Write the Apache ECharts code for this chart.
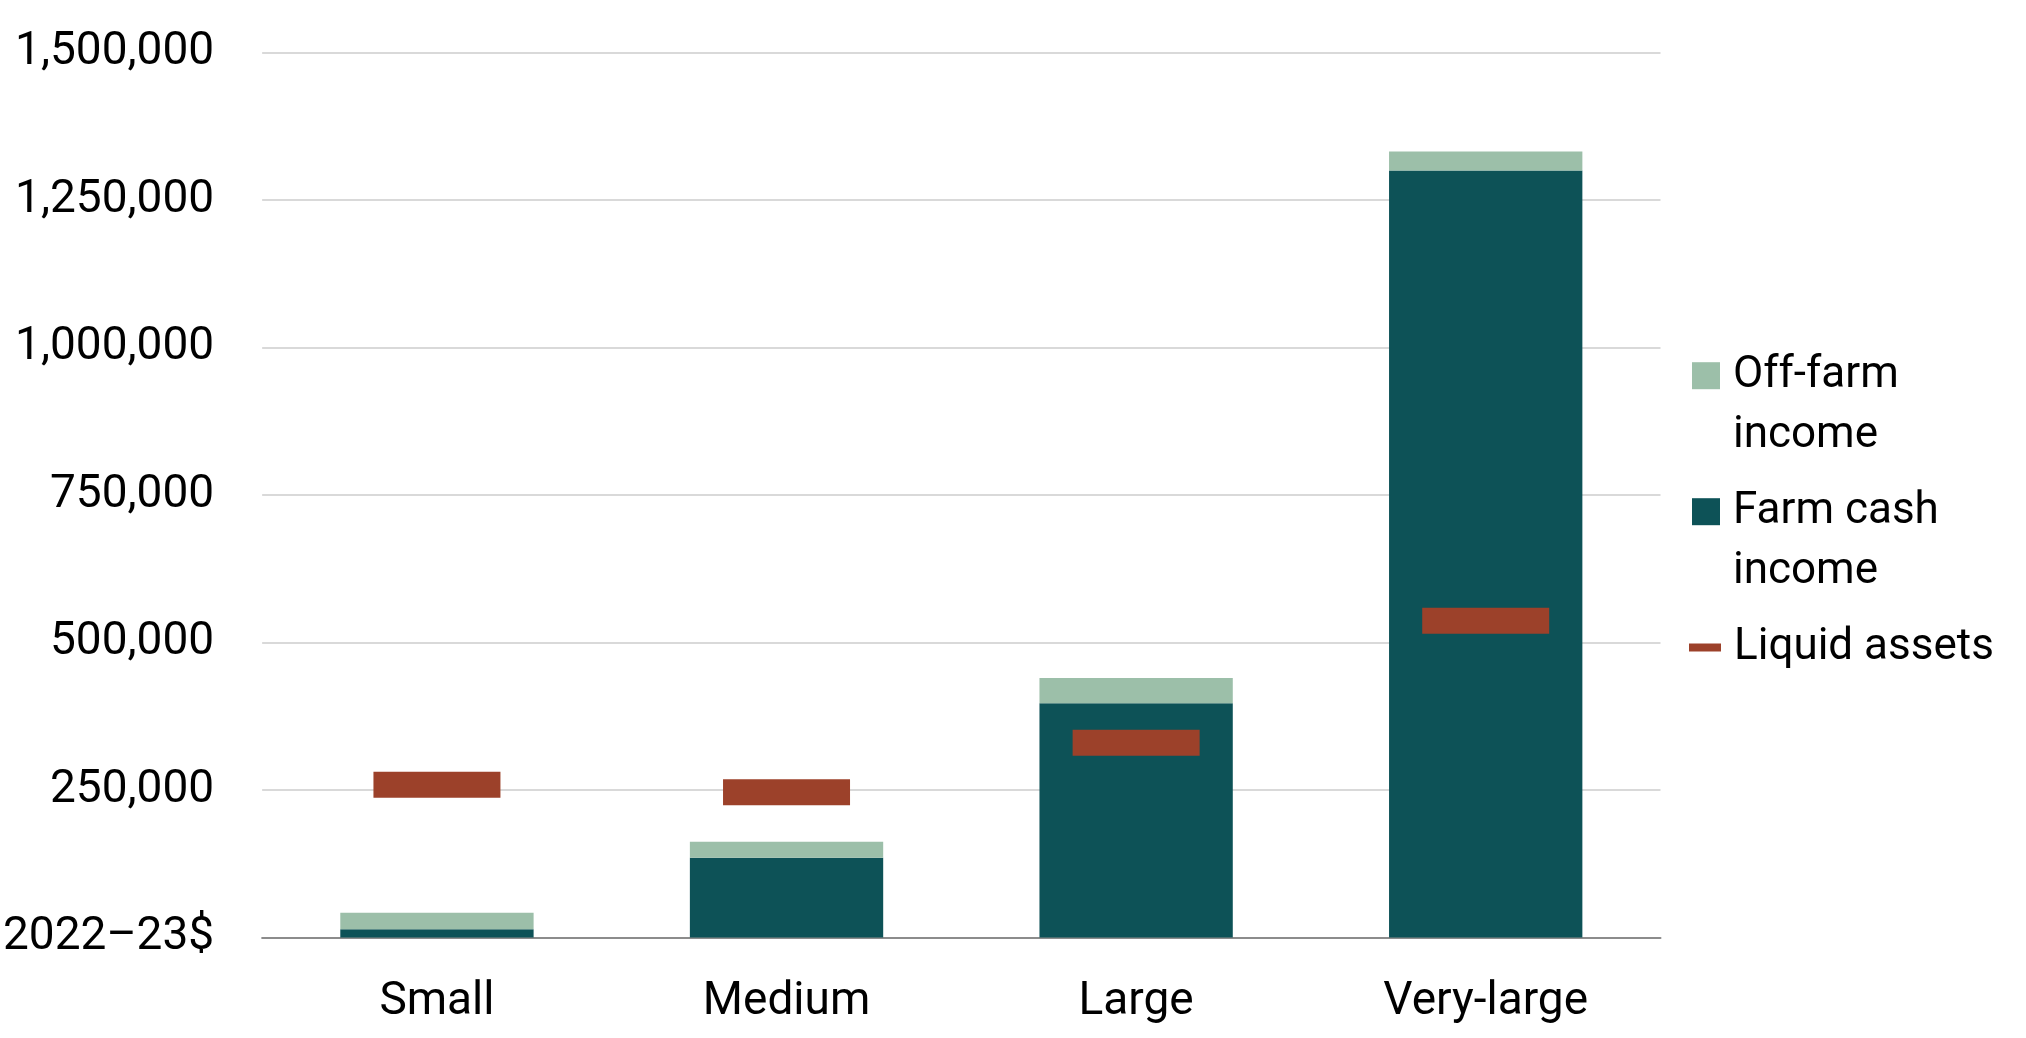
<!DOCTYPE html>
<html>
<head>
<meta charset="utf-8">
<script src="https://cdn.jsdelivr.net/npm/echarts@6/dist/echarts.min.js"></script>
<style>
html,body{margin:0;padding:0;background:#fff;}
#chart{width:2026px;height:1038px;}
</style>
</head>
<body>
<div id="chart"></div>
<script>
const categories = ['Small', 'Medium', 'Large', 'Very-large'];
const farmCashIncome = [14000, 135000, 397000, 1300000];
const offFarmIncome = [28000, 27500, 43000, 32000];
const liquidAssets = [259000, 246000, 330000, 537000];
const yTicks = [0, 250000, 500000, 750000, 1000000, 1250000, 1500000];
const zeroLabel = '2022–23$';

const FONT = 'Roboto';
const chart = echarts.init(document.getElementById('chart'));

function legendFor(name, top, left, iconW, iconH, twoLine) {
  return {
    data: [name],
    left: left,
    top: top,
    padding: 0,
    orient: 'vertical',
    itemWidth: iconW,
    itemHeight: iconH,
    icon: 'rect',
    selectedMode: false,
    formatter: function (n) {
      return twoLine ? '\n' + n.replace(/ income$/, '\nincome') : n;
    },
    textStyle: {
      fontFamily: FONT,
      fontSize: 44,
      color: '#000',
      lineHeight: 60,
      padding: [0, 0, 0, 8]
    }
  };
}

const option = {
  animation: false,
  backgroundColor: '#fff',
  grid: { left: 256.5, right: 365.5, top: 52.5, bottom: 100.5, containLabel: false },
  legend: [
    legendFor('Off-farm income', 285.7, 1692, 28, 27, true),
    legendFor('Farm cash income', 421.7, 1692, 28, 27, true),
    legendFor('Liquid assets', 617.5, 1689, 32, 8, false)
  ],
  xAxis: {
    type: 'category',
    data: categories,
    axisLine: { lineStyle: { color: '#8c8c8c', width: 2 } },
    axisTick: { alignWithLabel: true, length: 12, lineStyle: { color: '#8c8c8c', width: 2 } },
    axisLabel: { fontFamily: FONT, fontSize: 46, color: '#000', margin: 42 }
  },
  yAxis: {
    type: 'value',
    min: 0,
    max: 1500000,
    interval: 250000,
    axisLine: { show: false },
    axisTick: { show: false },
    splitLine: { lineStyle: { color: '#d9d9d9', width: 2 } },
    axisLabel: {
      fontFamily: FONT, fontSize: 46, color: '#000', margin: 48,
      formatter: function (v) {
        if (v === 0) return zeroLabel;
        return yTicks.indexOf(v) >= 0 ? v.toLocaleString('en-US') : '';
      }
    }
  },
  series: [
    {
      name: 'Farm cash income',
      type: 'bar',
      stack: 'income',
      data: farmCashIncome,
      barCategoryGap: '44.7%',
      itemStyle: { color: '#0d5257' },
      z: 2
    },
    {
      name: 'Off-farm income',
      type: 'bar',
      stack: 'income',
      data: offFarmIncome,
      itemStyle: { color: '#9cbfa9' },
      z: 2
    },
    {
      name: 'Liquid assets',
      type: 'scatter',
      data: liquidAssets,
      symbol: 'rect',
      symbolSize: [127, 26],
      itemStyle: { color: '#9c412a', opacity: 1 },
      z: 5
    }
  ]
};
chart.setOption(option);
</script>
</body>
</html>
